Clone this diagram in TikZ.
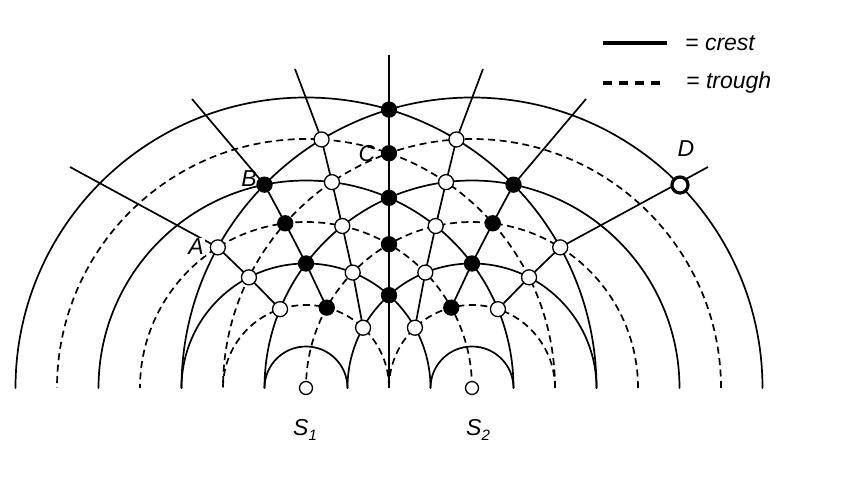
\documentclass[tikz,border=0pt]{standalone}
\usepackage{fontspec}
\setmainfont{Liberation Sans}
\begin{document}
\begin{tikzpicture}[x=1pt,y=1pt,
  wave/.style={line width=1.7pt,line cap=round},
  crest/.style={wave},
  troughline/.style={wave,line cap=butt,dash pattern=on 7pt off 4.5pt},
  hyp/.style={line width=1.7pt,line join=round},
  dotw/.style={circle,draw,fill=white,inner sep=0pt,minimum size=15pt,line width=1.3pt},
  dotb/.style={circle,draw,fill=black,inner sep=0pt,minimum size=15pt,line width=1.3pt},
  lab/.style={font=\itshape\fontsize{23}{23}\selectfont,inner sep=1pt},
  leg/.style={font=\itshape\fontsize{23}{23}\selectfont,anchor=west,inner sep=0pt}]
\useasboundingbox (0,0) rectangle (863,484);
% wave fronts
\foreach \c in {306,472}{
  \foreach \k in {1,3,5,7}{
    \draw[crest] (\c+41.5*\k,96) arc[start angle=0,end angle=180,radius=41.5*\k];}
  \foreach \k in {2,4,6}{
    \draw[troughline] (\c+41.5*\k,96) arc[start angle=0,end angle=180,radius=41.5*\k];}
}
% intersection points
\foreach \a/\b in {3/3,4/4,5/5,6/6,7/7,2/4,3/5,4/6,5/7,4/2,5/3,6/4,7/5,
                   2/3,3/4,4/5,5/6,6/7,3/2,4/3,5/4,6/5,7/6,2/5,3/6,4/7,5/2,6/3,7/4}{
  \pgfmathsetmacro\px{389+5.1875*(\a*\a-\b*\b)}
  \pgfmathsetmacro\py{96+10*sqrt((4.15*\a)^2-((\px-306)/10)^2)}
  \coordinate (P\a\b) at (\px,\py);
}
% line ends
\coordinate (M0) at (389,96);
\coordinate (M1) at (389,429);
\coordinate (L1) at (295,415);
\coordinate (R1) at (483,415);
\coordinate (L2) at (192,385);
\coordinate (R2) at (586,385);
\coordinate (L3) at (70,317);
\coordinate (R3) at (708,317);
% nodal / antinodal lines
\draw[hyp] (M0) -- (M1);
\draw[hyp] (P23) -- (P34) -- (P45) -- (P56) -- (P67) -- (L1);
\draw[hyp] (P32) -- (P43) -- (P54) -- (P65) -- (P76) -- (R1);
\draw[hyp] (P24) -- (P35) -- (P46) -- (P57) -- (L2);
\draw[hyp] (P42) -- (P53) -- (P64) -- (P75) -- (R2);
\draw[hyp] (P25) -- (P36) -- (P47) -- (L3);
\draw[hyp] (P52) -- (P63) -- (P74) -- (R3);
% dots
\foreach \a/\b in {3/3,4/4,5/5,6/6,7/7,2/4,3/5,4/6,5/7,4/2,5/3,6/4,7/5}{
  \node[dotb] (d\a\b) at (P\a\b) {};}
\foreach \a/\b in {2/3,3/4,4/5,5/6,6/7,3/2,4/3,5/4,6/5,7/6,2/5,3/6,4/7,5/2,6/3,7/4}{
  \node[dotw] (d\a\b) at (P\a\b) {};}
\node[circle,draw,fill=white,inner sep=0pt,minimum size=16pt,line width=3.2pt] (D) at (680,299) {};
% sources
\node[circle,draw,fill=white,inner sep=0pt,minimum size=13pt,line width=1.3pt] (S1) at (306,96) {};
\node[circle,draw,fill=white,inner sep=0pt,minimum size=13pt,line width=1.3pt] (S2) at (472,96) {};
% labels
\node[lab,fill=white] (lA) at (196,237) {A};
\node[lab] (lB) at (249,305) {B};
\node[lab] (lC) at (367,330) {C};
\node[lab] (lD) at (686,335) {D};
\node[lab] (lS1) at (305,54) {S\raisebox{-5pt}{\fontsize{15}{15}\selectfont 1}};
\node[lab] (lS2) at (478,54) {S\raisebox{-5pt}{\fontsize{15}{15}\selectfont 2}};
% legend
\coordinate (c1) at (603,441);
\coordinate (c2) at (667,441);
\coordinate (t1) at (603,401);
\coordinate (t2) at (667,401);
\draw[line width=3.2pt] (c1) -- (c2);
\draw[line width=3.2pt,dash pattern=on 9pt off 7pt] (t1) -- (t2);
\node[leg] (crest) at (685,441) {= crest};
\node[leg] (trough) at (686,401) {= trough};
\end{tikzpicture}
\end{document}
